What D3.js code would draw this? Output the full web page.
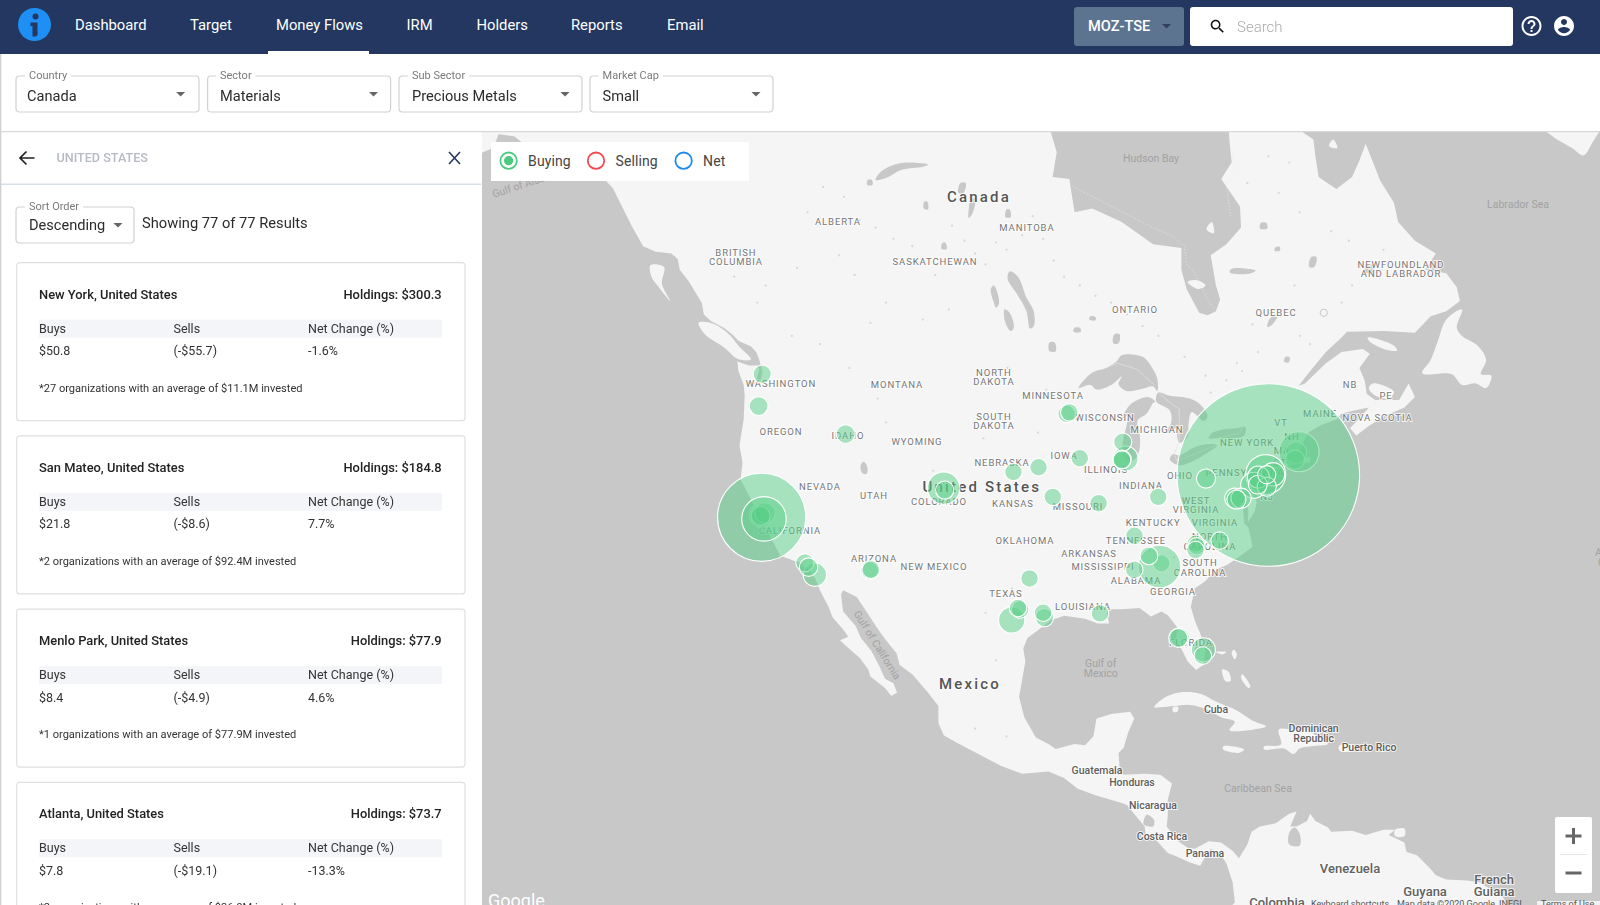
<!DOCTYPE html>
<html>
<head>
<meta charset="utf-8">
<script src="https://cdn.jsdelivr.net/npm/d3@7"></script>
<style>
html, body { margin: 0; padding: 0; background: #fff; overflow: hidden; }
svg { display: block; filter: blur(0.4px); }
text { font-family: Roboto, "Noto Sans", sans-serif; }
</style>
</head>
<body>
<svg id="page" width="1600" height="905"></svg>
<script>
// ---- data -----------------------------------------------------------------
var navItems = ["Dashboard", "Target", "Money Flows", "IRM", "Holders", "Reports", "Email"];
var filterLabels = ["Country", "Sector", "Sub Sector", "Market Cap"];
var filterValues = ["Canada", "Materials", "Precious Metals", "Small"];
var legendItems = ["Buying", "Selling", "Net"];

var cardCity = ["New York, United States", "San Mateo, United States", "Menlo Park, United States", "Atlanta, United States"];
var cardHoldings = [300.3, 184.8, 77.9, 73.7];
var cardBuys = [50.8, 21.8, 8.4, 7.8];
var cardSells = [55.7, 8.6, 4.9, 19.1];
var cardNet = [-1.6, 7.7, 4.6, -13.3];
var cardOrgs = [27, 2, 1, 2];
var cardAvg = [11.1, 92.4, 77.9, 36.9];

// bubbles: [lon, lat, buys ($M)], drawn in this order
var bubbles = [
  [-122.42, 37.72, 2.0], [-122.41, 37.75, 0.9], [-122.06, 37.9, 1.0], [-122.48, 37.68, 0.6],
  [-122.38, 37.57, 21.8], [-122.16, 37.45, 8.4],
  [-84.2, 34.0, 0.0], [-84.39, 33.75, 7.8],
  [-71.35, 42.3, 1.2], [-71.45, 41.8, 0.6], [-71.06, 42.36, 7.0],
  [-74.0, 40.7, 50.8], [-74.25, 40.73, 7.0], [-105.0, 39.74, 4.7], [-98.5, 29.4, 2.8],
  [-75.4, 39.95, 2.7], [-73.55, 40.75, 1.9],
  [-117.3, 33.1, 1.9], [-74.95, 40.55, 1.5], [-87.63, 41.88, 2.4], [-80.2, 26.9, 2.1],
  [-77.2, 39.0, 0.9], [-76.6, 39.0, 0.9],
  [-74.15, 39.85, 0.6], [-75.0, 40.0, 0.5], [-77.04, 38.9, 0.6],
  [-79.95, 40.44, 0.6], [-82.46, 27.95, 0.6], [-82.6, 27.9, 0.6], [-74.15, 40.72, 0.3],
  [-118.25, 34.05, 0.3], [-117.9, 33.7, 0.4], [-122.33, 47.6, 0.3], [-122.67, 45.5, 0.5],
  [-114.36, 43.6, 0.5], [-112.07, 33.45, 0.2], [-111.95, 33.5, 0.2], [-104.9, 39.6, 0.3],
  [-98.34, 40.92, 0.1], [-95.94, 41.26, 0.1], [-94.58, 39.1, 0.1], [-92.0, 41.9, 0.1],
  [-93.25, 44.98, 0.1], [-93.0, 45.08, 0.1], [-87.9, 43.04, 0.3], [-87.95, 41.83, 0.3],
  [-87.98, 41.78, 0.2], [-90.2, 38.63, 0.1], [-84.51, 39.1, 0.1], [-86.78, 36.16, 0.1],
  [-85.4, 34.6, 0.2], [-86.8, 33.5, 0.1], [-80.95, 35.55, 0.0], [-80.85, 35.35, 0.0],
  [-80.95, 35.05, 0.1], [-78.64, 35.78, 0.1], [-90.07, 29.95, 0.1], [-96.8, 32.8, 0.1],
  [-97.7, 30.27, 0.1], [-97.9, 30.4, 0.1], [-95.37, 29.6, 0.3], [-95.5, 30.0, 0.1],
  [-80.25, 26.4, 0.1]
];

// coast and lakes are hand traced lon/lat rings
var mainland = [
  [-155,62],[-152,61],[-151.5,59.9],[-150,59.5],[-149,60],[-148,60.2],[-147.5,60.85],[-146,60.75],[-145,60.35],
  [-143.5,60.05],[-141.5,59.9],[-139.5,59.7],[-138,59],[-136.6,58.25],[-135.8,57.4],[-134.8,56.3],[-133.7,55.2],
  [-132.5,54.9],[-131,54.8],[-130.4,54.5],[-130.2,53.9],[-129.3,53.2],[-128.7,52.6],[-128.1,52],[-127.9,51.3],
  [-127.2,50.9],[-126,50.5],[-125.2,50.1],[-124.6,49.7],[-123.4,49.35],[-122.9,49],[-122.6,48.5],[-122.3,47.7],
  [-122.5,47.2],[-122.9,47.2],[-122.6,47.9],[-122.8,48.15],[-123.6,48.15],[-124.7,48.4],[-124.6,47.8],[-124.1,46.9],
  [-124,46.2],[-124.1,44.6],[-124.5,42.8],[-124.2,41.6],[-124.4,40.4],[-123.8,39.5],[-123,38.3],[-122.5,37.85],
  [-122.2,37.85],[-122,37.5],[-122.4,37.6],[-122.5,37.4],[-122.1,36.95],[-121.9,36.6],[-121.3,35.7],[-120.6,34.6],[-119.3,34.2],[-118.5,34],
  [-118.4,33.75],[-117.8,33.5],[-117.2,32.7],[-116.8,31.8],[-116,30.5],[-115.6,29.6],[-114.6,28.6],[-114.1,28],
  [-114.9,27.7],[-114.3,27.2],[-113,26.2],[-112.2,25.2],[-112,24.6],[-110.6,23.6],[-110,22.9],[-109.45,23.2],[-109.8,24],
  [-110.6,24.4],[-111.2,25.6],[-111.9,26.8],[-112.9,27.9],[-113.4,28.9],[-114.6,30.1],[-114.8,31.5],[-114.6,31.85],
  [-113.3,31.3],[-112.3,30],[-111.4,28.8],[-110.6,27.8],[-109.5,26.6],[-109.2,25.6],[-108,24.8],[-106.6,23.3],
  [-105.5,22],[-105.5,20.5],[-105,19.4],[-103.7,18.7],[-101.5,17.6],[-99.5,16.6],[-97.5,15.9],[-95,16.1],[-93.5,15.5],
  [-92.2,14.5],[-90.5,13.9],[-88,13.2],[-87.5,13],[-87,12.4],[-85.8,11],[-85.7,10],[-84.7,9.7],[-83.6,8.5],[-82.8,8.2],
  [-81.5,7.6],[-80.5,7.3],[-80,8.2],[-79.5,8.9],[-78.5,8.3],[-78,7.5],[-77.4,5.7],[-77.2,3.8],[-78.6,2.4],[-79,1],
  [-80,0],[-80,-3],[-48,-3],[-50,0],[-50.5,2],[-51.5,4.2],[-52.5,4.9],[-53.8,5.7],[-55,5.9],[-57,6],[-58,6.4],[-58.5,7],
  [-59.8,8.3],[-60.8,8.6],[-61,9.5],[-62.5,10.2],[-61.9,10.7],[-63,10.7],[-64.7,10.2],[-66,10.6],[-68,10.5],[-68.3,10.9],
  [-69.5,11.5],[-70,12.2],[-70.3,11.5],[-71.3,11],[-71.9,11],[-71.3,12.4],[-72,12.2],[-73.3,11.3],[-74.8,11],[-75.6,10.5],
  [-76,9.3],[-76.8,8],[-77.4,8.7],[-78.5,9.5],[-79.7,9.6],[-81,8.9],[-81.7,9],[-82.6,9.6],[-83.7,11],[-83.6,12],[-83.6,13.5],
  [-83.2,15],[-84.3,15.8],[-85.8,15.9],[-87.8,15.8],[-88.9,15.9],[-88.2,16.5],[-88.3,17.8],[-87.8,18.3],[-87.4,19.6],
  [-86.8,20.9],[-87.2,21.5],[-89,21.3],[-90.4,20.9],[-90.7,19.3],[-91.5,18.5],[-92.5,18.6],[-94.3,18.15],[-95,18.6],
  [-96.2,19.2],[-97.3,21],[-97.8,22.8],[-97.2,25.9],[-97.4,27],[-97,27.9],[-95.9,28.6],[-94.8,29.35],[-93.5,29.75],
  [-91.5,29.5],[-90.3,29.1],[-89.2,29.1],[-89.4,29.9],[-89.4,30.3],[-88,30.3],[-86.3,30.4],[-85.2,29.7],[-84.2,30.1],
  [-83.6,29.8],[-82.7,28.8],[-82.8,27.8],[-82.2,26.8],[-81.7,25.9],[-80.9,25.15],[-80.2,25.6],[-80,26.8],[-80.5,28.3],
  [-81,29.3],[-81.4,30.5],[-81,32],[-80,32.6],[-79,33.5],[-77.9,33.9],[-76.5,34.7],[-75.5,35.3],[-75.9,36.8],[-76.3,37.1],
  [-76.4,38],[-76.5,39],[-76.2,39.3],[-75.9,38],[-75.95,37.2],[-75.3,38],[-75.1,38.7],[-75.5,39.5],[-74.9,38.95],[-74.2,39.6],
  [-74,40.4],[-73.9,40.55],[-72,41.05],[-73.7,40.95],[-72.9,41.2],[-71.3,41.5],[-70,41.6],[-70,42],[-70.7,41.9],[-71,42.3],
  [-70.7,43],[-70.2,43.7],[-69,44.2],[-67.5,44.6],[-67,45],[-65.8,45.2],[-64.4,45.4],[-65,44.9],[-66.2,44],[-65.6,43.5],
  [-64.5,44.1],[-63,44.8],[-61,45.4],[-60,46.1],[-60.6,47],[-61.5,45.9],[-63.8,45.9],[-64.6,46.3],[-64.8,47.2],[-65.3,48],
  [-64.3,48.9],[-65,49.2],[-67,49],[-68.5,48.3],[-70.5,47],[-71.1,46.85],[-70,47.8],[-68.5,49],[-67,49.9],[-66.5,50.25],
  [-63,50.3],[-60,50.2],[-58.5,51.2],[-57,51.5],[-55.7,52.1],[-56,52.9],[-57,53.7],[-59,53.9],[-58,54.8],[-60,55.5],[-61.6,56.5],
  [-62,57.5],[-63.3,58.6],[-64.7,60.4],[-65.3,59.6],[-66,58.8],[-67.5,58.2],[-69.2,58.8],[-69.5,59.8],[-69.7,60.6],[-71.5,61.2],[-74,62.2],
  [-78,62.5],[-77.7,60.5],[-77.5,59.5],[-78.5,58.7],[-76.7,57.3],[-76.6,56.2],[-78,55.3],[-79.5,54.7],[-79,53],[-78.6,52.2],
  [-79,51.5],[-79.8,51.25],[-80.6,51.4],[-81.8,52.8],[-82.3,53.9],[-82.3,55.1],[-85,55.3],[-88,56.5],[-90.8,57.2],[-92.5,57],
  [-93,58.7],[-94.6,58.8],[-94.2,60],[-94.8,61],[-94,64],[-155,64]
];
var islands = [
  [[-128.4,50.8],[-127,50.75],[-125.4,50.05],[-124.6,49.4],[-123.4,48.55],[-124.6,48.55],[-126,49.3],[-127.8,50.1]],
  [[-133,54.15],[-131.7,54.05],[-131.9,53.1],[-131.1,52.1],[-132.2,52.9],[-132.9,53.5]],
  [[-59.3,47.65],[-58.5,48.5],[-57.8,49.7],[-57,51],[-55.5,51.6],[-56,50.5],[-55.5,50],[-54,49.4],[-53.2,48.5],[-53.7,47.6],[-52.7,47.5],[-53.2,46.7],[-54.2,47],[-55.5,46.9],[-56.5,47.6]],
  [[-64.4,46.7],[-64,47],[-62,46.45],[-62.5,46],[-63.8,46.2]],
  [[-64.5,49.9],[-62,49.4],[-61.7,49.1],[-63,49.2],[-64.4,49.7]],
  [[-84.9,21.9],[-84,22.7],[-82.5,23.2],[-80.5,23.1],[-79,22.4],[-77,21.6],[-75.5,20.7],[-74.2,20.2],[-75.5,19.9],[-77.7,19.85],[-77.2,20.6],[-78.5,21],[-79.8,21.7],[-81.5,22.1],[-83,22],[-84.3,21.9]],
  [[-83.1,21.9],[-82.6,21.9],[-82.7,21.5],[-83.1,21.5]],
  [[-74.4,18.4],[-72.8,18.55],[-73,19.9],[-71.7,19.9],[-69.9,19.7],[-69.2,19.1],[-68.3,18.6],[-69.9,18.4],[-71,18.2],[-71.6,17.7],[-72.5,18.2],[-74.4,18.1]],
  [[-67.2,18.5],[-65.6,18.4],[-65.8,18],[-67.2,18]],
  [[-78.3,18.4],[-76.3,18.1],[-76.8,17.8],[-78.3,18.1]],
  [[-78.4,25.2],[-77.8,25],[-77.6,24.2],[-78.1,24.2]],
  [[-77.3,26.9],[-77,26.5],[-77.2,26.1],[-77.5,26.6]],
  [[-79,26.7],[-78,26.7],[-78.4,26.5]],
  [[-76.5,24.8],[-75.7,23.7],[-75.9,23.6],[-76.6,24.5]],
  [[-61.9,10.1],[-61,10.1],[-61,10.8],[-61.9,10.7]],
  [[-43.9,59.85],[-45,60.2],[-47,60.8],[-49,61.8],[-49,64],[-38,64],[-41,62],[-43,60.5]],
  [[-80,53],[-80.7,52.8],[-81.7,53.2],[-80.8,53.3]],
  [[-79.9,56.1],[-79.2,55.9],[-79.4,56.5]],
  [[-68.2,60.3],[-67.4,60.2],[-67.8,60.6]]
];
var lakes = [
  [[-92.1,46.7],[-91,46.9],[-90.4,46.6],[-89,46.9],[-88,47.45],[-88.3,46.95],[-87.5,46.5],[-86,46.65],[-85,46.8],[-84.6,46.5],[-84.6,47.3],[-85,47.9],[-86,48.7],[-88,48.8],[-88.5,48.4],[-89.5,48],[-90.8,47.7]],
  [[-87.8,42],[-87.5,41.7],[-86.8,41.8],[-86.3,42.5],[-86.3,43.7],[-86.5,44.5],[-85.6,45],[-85,45.7],[-84.8,45.8],[-85.5,46.1],[-87,45.7],[-87.7,45.1],[-88,44.6],[-87.4,44.9],[-87.5,44.3],[-87.9,43]],
  [[-84.7,45.8],[-83.4,45.2],[-83.3,44.3],[-83.9,43.7],[-83.5,43.7],[-82.9,44],[-82.5,43],[-81.7,43.4],[-81.6,44.4],[-81.3,45.1],[-80.2,44.5],[-79.8,44.8],[-80.5,45.6],[-81.5,46],[-83.5,46.2],[-84.5,46.4]],
  [[-83.4,41.8],[-82.5,41.4],[-81.5,41.6],[-79.8,42.3],[-78.9,42.8],[-79.5,42.9],[-81,42.7],[-82.5,42.1],[-83.1,42.2]],
  [[-79.7,43.3],[-79,43.3],[-77.5,43.3],[-76.3,43.5],[-76.2,44.1],[-77,44],[-78.5,43.9],[-79.4,43.65]],
  [[-111.5,58.65],[-110.5,58.75],[-109,59.15],[-107,59.3],[-106.5,59.4],[-108.5,59.5],[-110,59.35],[-111,59.05]],
  [[-112.3,58.4],[-111.8,58.4],[-111.85,58.65],[-112.25,58.65]],
  [[-103.6,58],[-103.1,58],[-102.9,58.5],[-103.4,58.5]],
  [[-102.6,56.7],[-102.2,57],[-102,57.7],[-102.4,57.7],[-102.6,57.2]],
  [[-106.9,57.2],[-106.5,57.15],[-106.55,57.55],[-106.85,57.55]],
  [[-105.2,55.05],[-104.7,55.05],[-104.85,55.4],[-105.15,55.35]],
  [[-99.1,56.75],[-98.6,56.75],[-98.7,57.15],[-99,57.15]],
  [[-96.75,50.45],[-96.4,50.6],[-96.4,51.5],[-97.1,52.3],[-97.9,53.5],[-98.7,53.8],[-98.9,53.4],[-98,52.5],[-97.1,51.5]],
  [[-98.6,50.3],[-98.3,50.5],[-98.7,51.4],[-99.2,51.6],[-99.1,50.8]],
  [[-100,51.7],[-99.7,52],[-100.2,53],[-100.5,52.8],[-100.2,52]],
  [[-88.8,49.55],[-88.3,49.55],[-88.2,50.1],[-88.7,50.1]],
  [[-94.9,49.05],[-94.3,49.05],[-94.4,49.6],[-94.9,49.6]],
  [[-92.6,50.25],[-91.9,50.25],[-92,50.5],[-92.5,50.5]],
  [[-91.1,51],[-90.5,50.95],[-90.5,51.15],[-91,51.2]],
  [[-74.1,50.55],[-73.7,50.65],[-73.1,51.25],[-73.4,51.3],[-73.9,51]],
  [[-72.5,48.4],[-72.05,48.35],[-71.95,48.65],[-72.35,48.7]],
  [[-70.1,54.05],[-69.6,54.05],[-69.4,54.6],[-69.9,54.6]],
  [[-77.7,53.75],[-76,53.65],[-75.2,53.85],[-76,53.95],[-77.5,53.95]],
  [[-73.4,54.95],[-72.9,54.95],[-72.9,55.15],[-73.3,55.15]],
  [[-74.8,56.15],[-74.1,56.15],[-74.2,56.45],[-74.7,56.45]],
  [[-64.8,53.75],[-63.9,53.75],[-63.9,54.15],[-64.7,54.15]],
  [[-112.7,40.8],[-112.35,40.8],[-112.3,41.3],[-112.65,41.65],[-112.95,41.3]],
  [[-81,26.8],[-80.65,26.8],[-80.65,27.15],[-81,27.1]],
  [[-85.9,11.2],[-85,11],[-84.9,11.6],[-85.6,12.1]],
  [[-72,9.3],[-71,9.2],[-71,10.3],[-71.5,10.9],[-72,10.4]]
];
// tiny lake specks, [lon, lat]
var specks = [
  [-118,57],[-116.5,58.3],[-114.5,57.8],[-113,56.6],[-111.5,56.2],[-109.8,55.6],[-108,55.2],[-107,54.4],[-105.8,53.6],
  [-104.2,56.3],[-103,55.5],[-102,54.8],[-101,54.2],[-100,55.4],[-99,55],[-97.5,55.8],[-96.5,56.8],[-95.5,55.6],[-94.5,54.4],
  [-93.5,53.5],[-92,53],[-90.5,52.4],[-89,52],[-87.5,51.3],[-86,50.6],[-84.5,50],[-82,48.7],[-80,47.5],[-79.5,46.4],[-78,47.2],
  [-76.5,47.8],[-75,49],[-77,48.3],[-75.5,50.7],[-71,50],[-70,49.5],[-67,52],[-66,53],[-71.5,53],[-68,56],[-71,57],[-73,58],
  [-72,59.5],[-74,59.8],[-76,58.5],[-63,55],[-61,53.5],[-66.3,55.5],[-112,50.8],[-110.5,52],[-113.5,53.6],[-107,51],[-104.5,51.6],
  [-115,54.7],[-119,54],[-122,53],[-125,53.5],[-126.5,55],[-124.3,54.4],[-122.8,52],[-119.5,50],[-116.8,49.5],[-114,48],
  [-110.5,44.4],[-111.3,46],[-106,41],[-100,47.7],[-98.9,48],[-95.2,46.6],[-93.5,46.2],[-101.2,43.3],[-96,43.7],[-85.3,35],[-83,34.5],
  [-98.5,32],[-101,30],[-100,26],[-104,24],[-102,20],[-99,19.3]
];
var dottedLines = [
  [[-92.6,58.3],[-90,57.6],[-87.5,56.9],[-85,56.2],[-83,55.7],[-82,55.2],[-81.8,54.2],[-81,53.7],[-80.4,52.9],[-79.8,52.2],[-79.1,51.6]],
  [[-77.4,60],[-77.2,59],[-78,58.4],[-77.6,56.8]]
];
var borderLines = [
  [[-89.5,48],[-88.4,48.3],[-86.5,47.9],[-84.9,46.9]],
  [[-84.5,46.4],[-83.5,45.8],[-82.5,45.3],[-82.5,43.1],[-83,42.2],[-82.7,41.7],[-79,42.8]],
  [[-79,43.3],[-76.8,43.65],[-76.3,44.2]]
];

var stateLabels = [
  ["BRITISH\nCOLUMBIA",-124.84,54.6],["ALBERTA",-115.1,56.5],["SASKATCHEWAN",-105.83,54.33],["MANITOBA",-97.05,56.2],
  ["ONTARIO",-86.73,51.6],["QUEBEC",-73.26,51.4],["NEWFOUNDLAND\nAND LABRADOR",-61.33,53.94],["NB",-66.2,46.9],["PE",-62.76,46.2],
  ["NOVA SCOTIA",-63.57,44.74],["MAINE",-69.06,45],["VT",-72.79,44.4],["NH",-71.74,43.4],["NEW YORK",-76.03,43],["MICHIGAN",-84.63,43.9],
  ["WISCONSIN",-89.6,44.74],["MINNESOTA",-94.56,46.2],["NORTH\nDAKOTA",-100.2,47.4],["SOUTH\nDAKOTA",-100.2,44.5],["MONTANA",-109.46,46.9],
  ["WASHINGTON",-120.54,47],["OREGON",-120.54,43.8],["IDAHO",-114.14,43.5],["WYOMING",-107.55,43.05],["NEBRASKA",-99.43,41.56],
  ["IOWA",-93.51,42.07],["ILLINOIS",-89.5,41.06],["INDIANA",-86.16,39.9],["OHIO",-82.43,40.63],["PENNSYLVANIA",-76.23,40.84],
  ["NEVADA",-116.82,39.84],["UTAH",-111.66,39.2],["COLORADO",-105.45,38.75],["KANSAS",-98.38,38.6],["MISSOURI",-92.18,38.37],
  ["KENTUCKY",-85,37.2],["WEST\nVIRGINIA",-80.9,38.5],["VIRGINIA",-79.09,37.2],["TENNESSEE",-86.64,35.8],["NORTH\nCAROLINA",-79.57,35.7],
  ["OKLAHOMA",-97.24,35.8],["ARKANSAS",-91.12,34.8],["MISSISSIPPI",-89.79,33.74],["ALABAMA",-86.64,32.6],["GEORGIA",-83.1,31.7],
  ["SOUTH\nCAROLINA",-80.52,33.66],["LOUISIANA",-91.7,30.5],["FLORIDA",-81.38,27.5],["TEXAS",-99.05,31.6],["CALIFORNIA",-119.68,36.55],
  ["ARIZONA",-111.66,34.4],["NEW MEXICO",-105.93,33.74],["NJ",-74.12,39.1],["MA",-72.69,42.43],["CT",-72.88,41.56]
];
var bigCountryLabels = [["Canada",-101.63,57.8],["United States",-101.36,39.84],["Mexico",-102.49,24]];
var midCountryLabels = [["Venezuela",-66.2,7.1],["Guyana",-59.03,4.85],["French\nGuiana",-52.44,5.4],["Colombia",-73.17,3.8]];
var smallCountryLabels = [
  ["Cuba",-78.99,21.7],["Dominican\nRepublic",-69.67,19.6],["Puerto Rico",-64.38,18.3],["Guatemala",-90.36,16.2],
  ["Honduras",-87.02,15.1],["Nicaragua",-85.01,13],["Costa Rica",-84.15,10.1],["Panama",-80.05,8.5]
];
var waterLabels = [
  ["Hudson Bay",-85.2,59.7,0],["Labrador Sea",-50.15,57.4,0],["Gulf of Alaska",-145.1,58.44,-18],["Gulf of California",-111.33,27.3,58],
  ["Gulf of\nMexico",-90,25.35,0],["Caribbean Sea",-74.98,14.6,0],["North\nAtlantic\nOcean",-41.1,34.9,0]
];

// ---- scales ---------------------------------------------------------------
var svg = d3.select("#page");
var projection = d3.geoMercator().scale(600).center([-74, 40.7]).translate([1268.3, 475]);
var rScale = d3.scaleLinear().domain([0, 50.8]).range([8.6, 91.3]);
var ringLine = d3.line().x(function (d) { return projection(d)[0]; }).y(function (d) { return projection(d)[1]; });
var softRing = d3.line().x(function (d) { return projection(d)[0]; }).y(function (d) { return projection(d)[1]; })
  .curve(d3.curveCatmullRomClosed.alpha(0.5));
var closedRing = function (d) { return ringLine(d) + "Z"; };

var cardY = d3.scaleLinear().domain([0, 1]).range([262.7, 435.9]);

// ---- map ------------------------------------------------------------------
svg.append("clipPath").attr("id", "mapClip").append("rect")
  .attr("x", 482).attr("y", 132).attr("width", 1118).attr("height", 773);

var map = svg.append("g").attr("clip-path", "url(#mapClip)");
map.append("rect").attr("x", 482).attr("y", 132).attr("width", 1118).attr("height", 773).attr("fill", "#c8c8c8");

map.append("path").datum(mainland).attr("d", closedRing).attr("fill", "#f5f5f5");
map.selectAll("path.land").data(islands).enter().append("path")
  .attr("class", "land").attr("d", softRing).attr("fill", "#f5f5f5");
map.selectAll("path.lake").data(lakes).enter().append("path")
  .attr("class", "lake").attr("d", softRing).attr("fill", "#c8c8c8");
map.selectAll("circle.speck").data(specks).enter().append("circle")
  .attr("class", "speck")
  .attr("cx", function (d) { return projection(d)[0]; })
  .attr("cy", function (d) { return projection(d)[1]; })
  .attr("r", 1.1).attr("fill", "#d6d6d6");
map.append("circle")
  .attr("cx", projection([-68.7, 51.4])[0]).attr("cy", projection([-68.7, 51.4])[1])
  .attr("r", 3.6).attr("fill", "none").attr("stroke", "#c8c8c8").attr("stroke-width", 1);
map.selectAll("path.dotted").data(dottedLines).enter().append("path")
  .attr("class", "dotted").attr("d", ringLine).attr("fill", "none")
  .attr("stroke", "#ececec").attr("stroke-width", 0.8).attr("stroke-dasharray", "1 2");
map.selectAll("path.border").data(borderLines).enter().append("path")
  .attr("class", "border").attr("d", ringLine).attr("fill", "none")
  .attr("stroke", "#e2e2e2").attr("stroke-width", 0.7);

function drawLabels(rows, size, weight, colour, spacing, halo, lineGap) {
  var g = map.append("g")
    .attr("font-size", size).attr("font-weight", weight).attr("fill", colour)
    .attr("letter-spacing", spacing).attr("text-anchor", "middle");
  var labels = g.selectAll("text").data(rows).enter().append("text")
    .attr("transform", function (d) {
      var p = projection([d[1], d[2]]);
      return "translate(" + p[0] + "," + p[1] + ") rotate(" + (d[3] || 0) + ")";
    })
    .attr("stroke", halo).attr("stroke-width", halo == "none" ? 0 : 2)
    .attr("stroke-opacity", 0.75).attr("paint-order", "stroke");
  labels.each(function (d) {
    var lines = d[0].split("\n");
    var off = -(lines.length - 1) * lineGap / 2 + size * 0.36;
    d3.select(this).selectAll("tspan").data(lines).enter().append("tspan")
      .attr("x", 0).attr("y", function (t, i) { return off + i * lineGap; }).text(function (t) { return t; });
  });
}
drawLabels(waterLabels, 10.5, 400, "#a2a2a2", 0, "none", 10);
drawLabels(stateLabels, 9.5, 400, "#777", 0.9, "#fff", 9.5);
drawLabels(smallCountryLabels, 10.5, 500, "#5e5e5e", 0, "#fff", 10);
drawLabels(midCountryLabels, 13, 500, "#616161", 0, "#fff", 12);
drawLabels(bigCountryLabels, 15, 500, "#555", 2.2, "#fff", 15);

map.selectAll("circle.bubble")
  .data(bubbles)
  .enter().append("circle")
  .attr("class", "bubble")
  .attr("cx", function (d) { return projection(d)[0]; })
  .attr("cy", function (d) { return projection(d)[1]; })
  .attr("r", function (d) { return rScale(d[2]); })
  .attr("fill", "rgb(90,208,135)").attr("fill-opacity", 0.5)
  .attr("stroke", "#fff").attr("stroke-width", 1.1);

// google furniture
map.append("text").attr("x", 488).attr("y", 907).attr("font-size", 18).attr("fill", "#fff").text("Google");
map.append("rect").attr("x", 1537).attr("y", 901).attr("width", 63).attr("height", 4).attr("fill", "#f1f1f1");
map.append("text").attr("x", 1311).attr("y", 907).attr("font-size", 9).attr("fill", "#555").text("Keyboard shortcuts");
map.append("text").attr("x", 1397).attr("y", 907).attr("font-size", 9).attr("fill", "#555").text("Map data ©2020 Google, INEGI");
map.append("text").attr("x", 1541).attr("y", 907).attr("font-size", 9).attr("fill", "#555").text("Terms of Use");

var zoomBox = map.append("g");
zoomBox.append("rect").attr("x", 1555).attr("y", 817).attr("width", 37).attr("height", 76).attr("rx", 2).attr("fill", "#fff");
zoomBox.append("rect").attr("x", 1560).attr("y", 854).attr("width", 27).attr("height", 1).attr("fill", "#e6e6e6");
zoomBox.append("path").attr("d", "M1565.5 836H1581.5M1573.5 828V844M1565.5 873H1581.5")
  .attr("stroke", "#666").attr("stroke-width", 3).attr("fill", "none");

// legend over the map
var legendDots = [508.6, 596, 683.6];
var legendColours = ["#4ccb80", "#f24a4f", "#1c8cf0"];
svg.append("rect").attr("x", 491).attr("y", 142).attr("width", 258).attr("height", 39).attr("fill", "#fff");
var legend = svg.selectAll("g.legend").data(legendItems).enter().append("g").attr("class", "legend");
legend.append("circle")
  .attr("cx", function (d, i) { return legendDots[i]; }).attr("cy", 160.7).attr("r", 8.2)
  .attr("fill", "none").attr("stroke-width", 1.8)
  .attr("stroke", function (d, i) { return legendColours[i]; });
legend.filter(function (d) { return d == "Buying"; }).append("circle")
  .attr("cx", legendDots[0]).attr("cy", 160.7).attr("r", 4.6).attr("fill", legendColours[0]);
legend.append("text")
  .attr("x", function (d, i) { return legendDots[i] + 19.5; }).attr("y", 165.5)
  .attr("font-size", 14).attr("fill", "#444").attr("letter-spacing", 0.1)
  .text(function (d) { return d; });

// ---- top bar --------------------------------------------------------------
svg.append("rect").attr("width", 1600).attr("height", 54).attr("fill", "#233761");
svg.append("circle").attr("cx", 34.5).attr("cy", 24.5).attr("r", 16.5).attr("fill", "#1e8ff5");
svg.append("circle").attr("cx", 35.5).attr("cy", 16.5).attr("r", 3).attr("fill", "#233761");
svg.append("path").attr("d", "M30.5 22.5H37.5V34.5Q37.5 36.5 35 36.5H32.5V26H30.5Z").attr("fill", "#233761");

var navStart = [75, 190, 276, 406.6, 476.5, 571, 667];
svg.selectAll("text.nav").data(navItems).enter().append("text")
  .attr("class", "nav")
  .attr("x", function (d, i) { return navStart[i]; }).attr("y", 30)
  .attr("font-size", 14.8).attr("font-weight", 400).attr("fill", "#fff")
  .text(function (d) { return d; });
svg.append("rect").attr("x", 268).attr("y", 51).attr("width", 101).attr("height", 3).attr("fill", "#fff");

svg.append("rect").attr("x", 1074).attr("y", 7).attr("width", 110).attr("height", 39).attr("rx", 3).attr("fill", "#5d7491");
svg.append("text").attr("x", 1088).attr("y", 31).attr("font-size", 14.6).attr("font-weight", 500).attr("fill", "#fff").text("MOZ-TSE");
svg.append("path").attr("d", "M1162 24H1171L1166.5 28.5Z").attr("fill", "#2f3f5c");
svg.append("rect").attr("x", 1190).attr("y", 7).attr("width", 323).attr("height", 39).attr("rx", 3).attr("fill", "#fff");
svg.append("path")
  .attr("d", "M15.5 14h-.79l-.28-.27C15.41 12.59 16 11.11 16 9.5 16 5.91 13.09 3 9.5 3S3 5.91 3 9.5 5.91 16 9.5 16c1.61 0 3.09-.59 4.23-1.57l.27.28v.79l5 4.99L20.49 19l-4.99-5zm-6 0C7.01 14 5 11.99 5 9.5S7.01 5 9.5 5 14 7.01 14 9.5 11.99 14 9.5 14z")
  .attr("transform", "translate(1208.5,17.5) scale(0.75)").attr("fill", "#111");
svg.append("text").attr("x", 1237).attr("y", 32).attr("font-size", 15).attr("font-weight", 300).attr("fill", "#aaa").text("Search");
svg.append("path")
  .attr("d", "M11 18h2v-2h-2v2zm1-16C6.48 2 2 6.48 2 12s4.48 10 10 10 10-4.48 10-10S17.52 2 12 2zm0 18c-4.41 0-8-3.59-8-8s3.59-8 8-8 8 3.59 8 8-3.59 8-8 8zm0-14c-2.21 0-4 1.79-4 4h2c0-1.1.9-2 2-2s2 .9 2 2c0 2-3 1.75-3 5h2c0-2.25 3-2.5 3-5 0-2.21-1.79-4-4-4z")
  .attr("transform", "translate(1519.5,14) scale(1)").attr("fill", "#fff");
svg.append("path")
  .attr("d", "M12 2C6.48 2 2 6.48 2 12s4.48 10 10 10 10-4.48 10-10S17.52 2 12 2zm0 3c1.66 0 3 1.34 3 3s-1.34 3-3 3-3-1.34-3-3 1.34-3 3-3zm0 14.2c-2.5 0-4.71-1.28-6-3.22.03-1.99 4-3.08 6-3.08 1.99 0 5.97 1.09 6 3.08-1.29 1.94-3.5 3.22-6 3.22z")
  .attr("transform", "translate(1552,14) scale(1)").attr("fill", "#fff");

// ---- select boxes ---------------------------------------------------------
function selectBox(x, w, y, h, label, value, labelX, valueX, caretX, valueDrop) {
  var g = svg.append("g");
  g.append("rect").attr("x", x).attr("y", y).attr("width", w).attr("height", h).attr("rx", 3.5)
    .attr("fill", "#fff").attr("stroke", "#cfd1d4").attr("stroke-width", 1.2);
  var labelText = g.append("text").attr("x", labelX).attr("y", y + 3).attr("font-size", 11).attr("fill", "#7a7a7a").text(label);
  var w2 = labelText.node().getComputedTextLength();
  g.insert("rect", "text").attr("x", labelX - 4).attr("y", y - 2).attr("width", w2 + 8).attr("height", 4).attr("fill", "#fff");
  g.append("text").attr("x", valueX).attr("y", y + h / 2 + valueDrop).attr("font-size", 14.6).attr("fill", "#2b2b2b").text(value);
  g.append("path").attr("d", "M" + (caretX - 4.5) + " " + (y + h / 2 - 2) + "h9l-4.5 4.5Z").attr("fill", "#666");
}
var filterBoxX = [16, 207.6, 399, 590];
var filterTextX = [27, 220, 412, 602.6];
var filterCaretX = [180.6, 373.5, 565, 756];
filterLabels.forEach(function (name, i) {
  var labelX = i == 0 ? 29 : filterTextX[i];
  selectBox(filterBoxX[i], 183, 76, 36, name, filterValues[i], labelX, filterTextX[i], filterCaretX[i], 6.5);
});

// ---- left panel -----------------------------------------------------------
svg.append("rect").attr("x", 0).attr("y", 131).attr("width", 1600).attr("height", 1.2).attr("fill", "#d8d8d8");
svg.append("rect").attr("x", 0).attr("y", 54).attr("width", 1.3).attr("height", 851).attr("fill", "#d0d0d0");
svg.append("rect").attr("x", 0).attr("y", 183.6).attr("width", 481).attr("height", 1.2).attr("fill", "#cdd6e2");
svg.append("path").attr("d", "M34.5 158H20M26.5 151.5L20 158L26.5 164.5").attr("stroke", "#222").attr("stroke-width", 1.7).attr("fill", "none");
svg.append("text").attr("x", 56.5).attr("y", 162).attr("font-size", 12.6).attr("font-weight", 500).attr("fill", "#b6bac2").text("UNITED STATES");
svg.append("path").attr("d", "M449 152L460 164M460 152L449 164").attr("stroke", "#233761").attr("stroke-width", 1.6).attr("fill", "none");

selectBox(16, 118, 207, 36, "Sort Order", "Descending", 29, 29, 118, 5);
svg.append("text").attr("x", 142).attr("y", 227.5).attr("font-size", 14.7).attr("fill", "#2b2b2b").text("Showing 77 of 77 Results");

var cards = svg.selectAll("g.card").data(cardCity).enter().append("g")
  .attr("class", "card")
  .attr("transform", function (d, i) { return "translate(0," + cardY(i) + ")"; });
cards.append("rect").attr("x", 16.7).attr("y", 0).attr("width", 448.3).attr("height", 158).attr("rx", 3)
  .attr("fill", "#fff").attr("stroke", "#e0e0e0").attr("stroke-width", 1.2);
cards.append("rect").attr("x", 39).attr("y", 57).attr("width", 403).attr("height", 18).attr("fill", "#f4f5f8");
cards.append("text").attr("x", 39).attr("y", 36).attr("font-size", 12.9).attr("font-weight", 500).attr("fill", "#222")
  .text(function (d) { return d; });
cards.append("text").attr("x", 441.7).attr("y", 36).attr("text-anchor", "end").attr("font-size", 12.9).attr("font-weight", 500).attr("fill", "#222")
  .text(function (d, i) { return "Holdings: $" + cardHoldings[i].toFixed(1); });

var colX = d3.scalePoint().domain(["Buys", "Sells", "Net Change (%)"]).range([39, 308]);
colX.domain().forEach(function (col) {
  cards.append("text").attr("x", colX(col)).attr("y", 70).attr("font-size", 12.5).attr("fill", "#333").text(col);
});
cards.append("text").attr("x", colX("Buys")).attr("y", 92.5).attr("font-size", 12.5).attr("fill", "#333")
  .text(function (d, i) { return "$" + cardBuys[i].toFixed(1); });
cards.append("text").attr("x", colX("Sells")).attr("y", 92.5).attr("font-size", 12.5).attr("fill", "#333")
  .text(function (d, i) { return "(-$" + cardSells[i].toFixed(1) + ")"; });
cards.append("text").attr("x", colX("Net Change (%)")).attr("y", 92.5).attr("font-size", 12.5).attr("fill", "#333")
  .text(function (d, i) { return cardNet[i].toFixed(1) + "%"; });
cards.append("text").attr("x", 39).attr("y", 129).attr("font-size", 11.05).attr("fill", "#333")
  .text(function (d, i) { return "*" + cardOrgs[i] + " organizations with an average of $" + cardAvg[i].toFixed(1) + "M invested"; });
</script>
</body>
</html>
